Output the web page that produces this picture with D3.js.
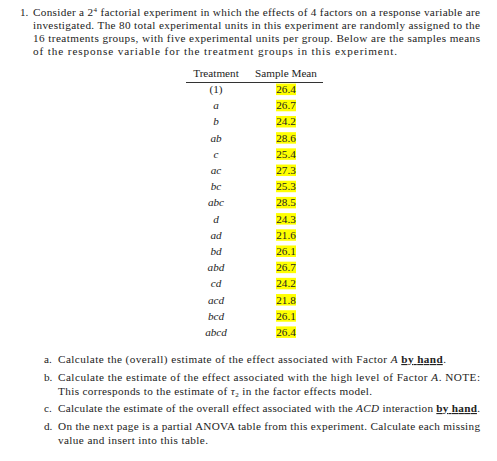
<!DOCTYPE html>
<html><head><meta charset="utf-8">
<script src="https://cdn.jsdelivr.net/npm/d3@7"></script>
<style>body{margin:0;background:#fff}svg text{font-family:"Liberation Serif","DejaVu Serif",serif;}</style>
</head><body><div id="c"></div>
<script>
const treatments=["(1)","a","b","ab","c","ac","bc","abc","d","ad","bd","abd","cd","acd","bcd","abcd"];
const means=[26.4,26.7,24.2,28.6,25.4,27.3,25.3,28.5,24.3,21.6,26.1,26.7,24.2,21.8,26.1,26.4];
const headers=["Treatment","Sample Mean"];

const W=497,H=461;
const svg=d3.select("#c").append("svg").attr("width",W).attr("height",H).attr("font-family","Liberation Serif, serif");
const fs=11.2;
function line(x,y,parts,len){
  const t=svg.append("text").attr("x",x).attr("y",y).attr("font-size",fs).attr("fill","#222");
  parts.forEach(p=>{const s=t.append("tspan").text(p.t);
    if(p.i)s.attr("font-style","italic");
    if(p.b)s.attr("font-weight","bold").attr("text-decoration","underline");
    if(p.sup){s.attr("font-size",7).attr("dy",-4);}
    if(p.sub){s.attr("font-size",7).attr("dy",2);}
    if(p.dy)s.attr("dy",p.dy);
  });
  if(len)t.attr("textLength",len).attr("lengthAdjust","spacing");
  return t;
}
line(20,16,[{t:"1."}]);
line(33,16,[{t:"Consider a 2"},{t:"4",sup:1},{t:" factorial experiment in which the effects of 4 factors on a response variable are",dy:4}],447);
line(33,29,[{t:"investigated. The 80 total experimental units in this experiment are randomly assigned to the"}],447);
line(33,42,[{t:"16 treatments groups, with five experimental units per group. Below are the samples means"}],447);
line(33,55,[{t:"of the response variable for the treatment groups in this experiment."}],364);

// table
const xc=d3.scalePoint().domain(headers).range([216,286]);
const y=d3.scaleBand().domain(treatments).range([81,340]).paddingInner(0);
svg.selectAll("text.h").data(headers).join("text").attr("class","h")
  .attr("x",d=>xc(d)).attr("y",77).attr("text-anchor","middle").attr("font-size",fs).attr("fill","#222").text(d=>d);
svg.append("line").attr("x1",186).attr("x2",323).attr("y1",82.5).attr("y2",82.5).attr("stroke","#333").attr("stroke-width",1);
const rows=svg.selectAll("g.r").data(treatments.map((t,i)=>({t,m:means[i]}))).join("g").attr("class","r")
  .attr("transform",d=>`translate(0,${y(d.t)+y.bandwidth()/2})`);
rows.append("rect").attr("x",xc(headers[1])-10).attr("y",-5.5).attr("width",20).attr("height",11.5).attr("fill","#ffff00");
rows.append("text").attr("x",xc(headers[0])).attr("y",4).attr("text-anchor","middle").attr("font-size",fs).attr("fill","#222")
  .attr("font-style",d=>d.t==="(1)"?"normal":"italic").text(d=>d.t);
rows.append("text").attr("x",xc(headers[1])).attr("y",4).attr("text-anchor","middle").attr("font-size",fs).attr("fill","#222").text(d=>d3.format(".1f")(d.m));

// questions
const qx=44,tx=58;
line(qx,363,[{t:"a."}]);
line(tx,363,[{t:"Calculate the (overall) estimate of the effect associated with Factor "},{t:"A",i:1},{t:" "},{t:"by hand",b:1},{t:"."}],388);
line(qx,381,[{t:"b."}]);
line(tx,381,[{t:"Calculate the estimate of the effect associated with the high level of Factor "},{t:"A",i:1},{t:". NOTE:"}],422);
line(tx,395,[{t:"This corresponds to the estimate of "},{t:"τ",i:1},{t:"2",sub:1},{t:" in the factor effects model.",dy:-2}],314);
line(qx,412,[{t:"c."}]);
line(tx,412,[{t:"Calculate the estimate of the overall effect associated with the "},{t:"ACD",i:1},{t:" interaction "},{t:"by hand",b:1},{t:"."}],422);
line(qx,430,[{t:"d."}]);
line(tx,430,[{t:"On the next page is a partial ANOVA table from this experiment. Calculate each missing"}],422);
line(tx,444,[{t:"value and insert into this table."}],150);
</script></body></html>
